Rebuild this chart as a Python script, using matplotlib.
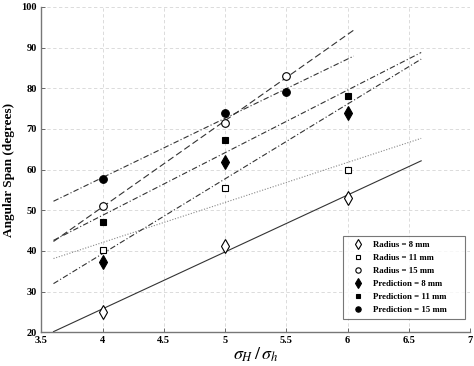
import numpy as np
import matplotlib
matplotlib.use("Agg")
import matplotlib.pyplot as plt

plt.rcParams['font.family'] = ['Liberation Serif', 'DejaVu Serif']
plt.rcParams['mathtext.fontset'] = 'stix'

# measured points
x_r8 = [4, 5, 6]
y_r8 = [25.0, 41.3, 53.0]
x_r11 = [4, 5, 6]
y_r11 = [40.3, 55.5, 60.0]
x_r15 = [4, 5, 5.5]
y_r15 = [51.0, 71.5, 83.0]

# predictions
x_p8 = [4, 5, 6]
y_p8 = [37.2, 62.0, 74.0]
x_p11 = [4, 5, 6]
y_p11 = [47.2, 67.3, 78.0]
x_p15 = [4, 5, 5.5]
y_p15 = [57.6, 74.0, 79.0]

# extent of the linear fit lines
fit_start = 3.6
fit_end_long = 6.6
fit_end_short = 6.05

xticks = [3.5, 4, 4.5, 5, 5.5, 6, 6.5, 7]
xticklabels = ['3.5', '4', '4.5', '5', '5.5', '6', '6.5', '7']
yticks = [20, 30, 40, 50, 60, 70, 80, 90, 100]

fig = plt.figure(figsize=(4.74, 3.66), dpi=100)
ax = fig.add_axes([0.087, 0.092, 0.905, 0.889])

def fit_line(xs, ys, x_end, ls, col='#333333'):
    k, b = np.polyfit(xs, ys, 1)
    xx = np.array([fit_start, x_end])
    ax.plot(xx, k * xx + b, color=col, lw=0.8, linestyle=ls)

dashdot = (0, (5, 2, 1, 2))
fit_line(x_r8, y_r8, fit_end_long, '-')
fit_line(x_r11, y_r11, fit_end_long, (0, (1, 1.5)), '#888888')
fit_line(x_r15, y_r15, fit_end_short, (0, (6, 3)))
fit_line(x_p8, y_p8, fit_end_long, dashdot)
fit_line(x_p11, y_p11, fit_end_long, dashdot)
fit_line(x_p15, y_p15, fit_end_short, dashdot)

mk = dict(linestyle='none', color='black', markeredgewidth=0.8)
ax.plot(x_r8, y_r8, marker='d', markersize=7.5, markerfacecolor='white', label='Radius = 8 mm', **mk)
ax.plot(x_r11, y_r11, marker='s', markersize=5, markerfacecolor='white', label='Radius = 11 mm', **mk)
ax.plot(x_r15, y_r15, marker='o', markersize=5.5, markerfacecolor='white', label='Radius = 15 mm', **mk)
ax.plot(x_p8, y_p8, marker='d', markersize=7.5, label='Prediction = 8 mm', **mk)
ax.plot(x_p11, y_p11, marker='s', markersize=5, label='Prediction = 11 mm', **mk)
ax.plot(x_p15, y_p15, marker='o', markersize=5.5, label='Prediction = 15 mm', **mk)

ax.set_xlim(3.5, 7)
ax.set_ylim(20, 100)
ax.set_xticks(xticks)
ax.set_xticklabels(xticklabels)
ax.set_yticks(yticks)
ax.tick_params(direction='in', length=3, width=0.6, colors='#555555', labelcolor='black',
               labelsize=7.5, pad=3)
for lab in ax.get_xticklabels() + ax.get_yticklabels():
    lab.set_fontweight('bold')

ax.grid(True, linestyle=(0, (4, 3)), color='#d6d6d6', lw=0.6)
for s in ['top', 'right']:
    ax.spines[s].set_visible(False)
for s in ['left', 'bottom']:
    ax.spines[s].set_color('#777777')
    ax.spines[s].set_linewidth(1.0)

ax.set_ylabel('Angular Span (degrees)', fontsize=9.5, fontweight='bold', labelpad=5)
ax.set_xlabel(r'$\sigma_H\,/\,\sigma_h$', fontsize=13, labelpad=0)

leg = ax.legend(loc='lower left', bbox_to_anchor=(0.704, 0.04, 0.284, 0.24), mode='expand',
                prop={'weight': 'bold', 'size': 6.3}, markerscale=0.7,
                frameon=True, fancybox=False, handlelength=2.2, borderpad=0.6,
                borderaxespad=0, labelspacing=0.55, handletextpad=0.6)
leg.get_frame().set_edgecolor('#555555')
leg.get_frame().set_linewidth(0.8)

fig.savefig('out.png', dpi=100)
